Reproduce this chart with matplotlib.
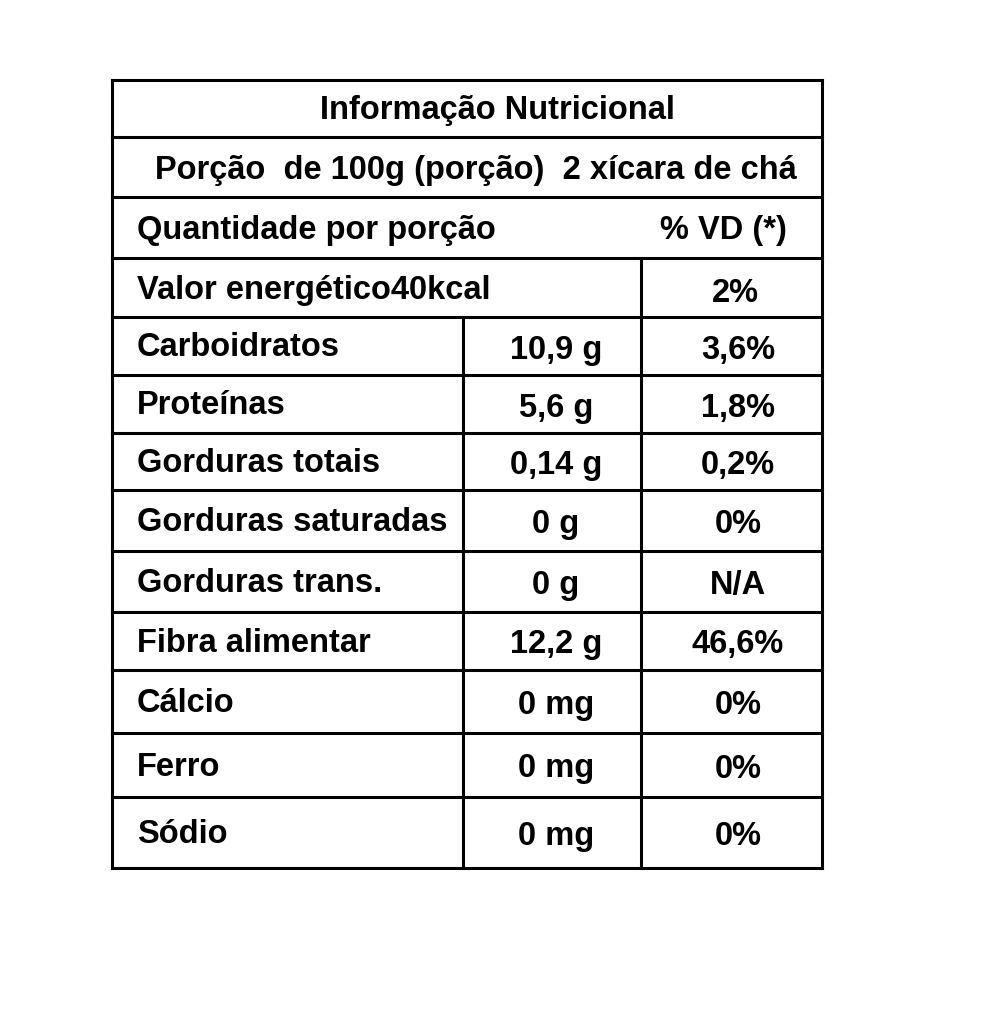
import matplotlib.pyplot as plt

title = "Informação Nutricional"
portion = "Porção  de 100g (porção)  2 xícara de chá"
qty_label = "Quantidade por porção"
vd_label = "% VD (*)"
energy_label = "Valor energético40kcal"
energy_vd = "2%"

nutrients = ["Carboidratos", "Proteínas", "Gorduras totais", "Gorduras saturadas",
             "Gorduras trans.", "Fibra alimentar", "Cálcio", "Ferro", "Sódio"]
amounts = ["10,9 g", "5,6 g", "0,14 g", "0 g", "0 g", "12,2 g", "0 mg", "0 mg", "0 mg"]
vd = ["3,6%", "1,8%", "0,2%", "0%", "N/A", "46,6%", "0%", "0%", "0%"]

rows_y = [80, 137, 197, 258, 317, 375, 433, 490, 551, 612, 670, 733, 797, 868]
left, right = 112, 822
col1, col2 = 463, 641

fig = plt.figure(figsize=(10, 10.16), dpi=100)
ax = fig.add_axes([0, 0, 1, 1])
ax.set_xlim(0, 1000)
ax.set_ylim(1016, 0)
ax.axis("off")

lw = 2.2
for y in rows_y:
    ax.plot([left, right], [y, y], color="black", lw=lw)
ax.plot([left, left], [rows_y[0], rows_y[-1]], color="black", lw=lw)
ax.plot([right, right], [rows_y[0], rows_y[-1]], color="black", lw=lw)
ax.plot([col2, col2], [rows_y[3], rows_y[-1]], color="black", lw=lw)
ax.plot([col1, col1], [rows_y[4], rows_y[-1]], color="black", lw=lw)

font = dict(family="Liberation Sans", fontweight="bold", fontsize=23.5, color="black", va="center")
ax.text(497, 111, title, ha="center", **font)
ax.text(155, 171, portion, ha="left", **font)
ax.text(137, 231, qty_label, ha="left", **font)
ax.text(660, 231, vd_label, ha="left", **font)
ax.text(137, 291, energy_label, ha="left", **font)
ax.text(735, 294, energy_vd, ha="center", **font)

for i, (n, a, v) in enumerate(zip(nutrients, amounts, vd)):
    top, bot = rows_y[4 + i], rows_y[5 + i]
    yc = (top + bot) / 2
    ax.text(137, yc + 2, n, ha="left", **font)
    ax.text(556, yc + 4, a, ha="center", **font)
    ax.text(738, yc + 4, v, ha="center", **font)

fig.savefig("out.png", dpi=100, facecolor="white")
